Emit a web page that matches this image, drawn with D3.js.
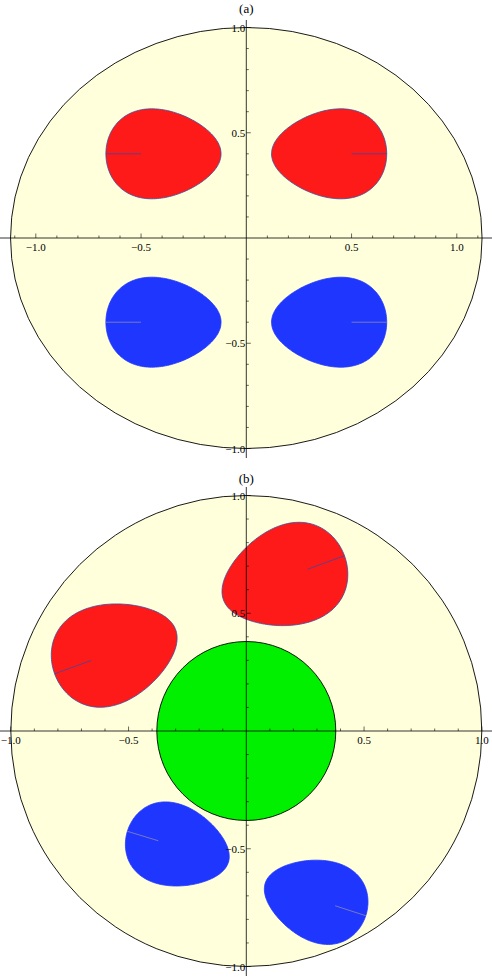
<!DOCTYPE html>
<html><head><meta charset="utf-8">
<script src="https://cdn.jsdelivr.net/npm/d3@7"></script>
<style>body{margin:0;background:#fff}text{font-family:"Liberation Serif",serif}</style>
</head><body>
<svg id="c" width="492" height="978"></svg>
<script>
// egg outline, in units along the blob axis: tip (toward origin), blunt end, half width, skew
var eggTip = -0.38, eggBlunt = 0.167, eggHalfWidth = 0.209, eggSkew = 0.22;

// blobs: seed x, seed y, direction of blunt end (deg), scale, colour
var blobsA = [
  {x: 0.5,  y: 0.4,  dir: 0,   s: 1, c: "red"},
  {x: -0.5, y: 0.4,  dir: 180, s: 1, c: "red"},
  {x: 0.5,  y: -0.4, dir: 0,   s: 1, c: "blue"},
  {x: -0.5, y: -0.4, dir: 180, s: 1, c: "blue"}
];
var blobsB = [
  {x: 0.26,   y: 0.687,  dir: 20,  s: 1,    c: "red"},
  {x: -0.657, y: 0.30,   dir: 200, s: 1,    c: "red"},
  {x: -0.374, y: -0.466, dir: 163, s: 0.82, c: "blue"},
  {x: 0.377,  y: -0.742, dir: -18, s: 0.82, c: "blue"}
];
var majorTicks = [-1, -0.5, 0.5, 1];
var diskRxA = 1.12, greenR = 0.38;

var svg = d3.select("#c");
var fills = {red: "#ff1a1a", blue: "#1f36ff"};
var edge = {red: "#3a4aa0", blue: "#1f36ff"};
var ray = {red: "#3a4aa0", blue: "#8a8ab0"};

function panel(cfg) {
  var x = d3.scaleLinear().domain([0, 1]).range([cfg.ox, cfg.ox + cfg.k]);
  var y = d3.scaleLinear().domain([0, 1]).range([cfg.oy, cfg.oy - cfg.k]);
  var g = svg.append("g");
  g.append("ellipse").attr("cx", x(0)).attr("cy", y(0))
    .attr("rx", x(cfg.rx) - x(0)).attr("ry", y(0) - y(1))
    .attr("fill", "#ffffdc").attr("stroke", "#000").attr("stroke-width", 0.9);
  if (cfg.green) g.append("circle").attr("cx", x(0)).attr("cy", y(0)).attr("r", x(greenR) - x(0))
    .attr("fill", "#00f000").attr("stroke", "#000").attr("stroke-width", 0.9);
  var line = d3.line().x(function(d){return x(d[0]);}).y(function(d){return y(d[1]);}).curve(d3.curveLinearClosed);
  var uc = (eggTip + eggBlunt) / 2, A = (eggBlunt - eggTip) / 2;
  cfg.blobs.forEach(function(b) {
    var t = b.dir * Math.PI / 180, ct = Math.cos(t), st = Math.sin(t);
    var pts = d3.range(0, 360, 2).map(function(a) {
      var th = a * Math.PI / 180;
      var u = (uc + A * Math.cos(th)) * b.s;
      var v = eggHalfWidth * Math.sin(th) * (1 + eggSkew * Math.cos(th)) * b.s;
      return [b.x + u * ct - v * st, b.y + u * st + v * ct];
    });
    g.append("path").attr("d", line(pts)).attr("fill", fills[b.c])
      .attr("stroke", edge[b.c]).attr("stroke-width", 0.8);
    var r0 = eggBlunt * b.s;
    g.append("line").attr("x1", x(b.x)).attr("y1", y(b.y))
      .attr("x2", x(b.x + r0 * ct)).attr("y2", y(b.y + r0 * st))
      .attr("stroke", ray[b.c]).attr("stroke-width", 0.8);
  });
  // axes
  g.append("line").attr("x1", 0).attr("x2", 492).attr("y1", y(0)).attr("y2", y(0)).attr("stroke", "#000").attr("stroke-width", 0.8);
  g.append("line").attr("x1", x(0)).attr("x2", x(0)).attr("y1", cfg.yTop).attr("y2", cfg.yBot).attr("stroke", "#000").attr("stroke-width", 0.8);
  var minor = d3.range(-11, 12).map(function(i){return i / 10;}).filter(function(v){return v !== 0;});
  minor.forEach(function(v) {
    var major = Math.abs(Math.round(v * 10)) % 5 === 0, len = major ? 4.5 : 2.5;
    if (x(v) > 2 && x(v) < 490)
      g.append("line").attr("x1", x(v)).attr("x2", x(v)).attr("y1", y(0)).attr("y2", y(0) - len).attr("stroke", "#000").attr("stroke-width", 0.6);
    if (Math.abs(v) <= 1.0001)
      g.append("line").attr("y1", y(v)).attr("y2", y(v)).attr("x1", x(0)).attr("x2", x(0) + len).attr("stroke", "#000").attr("stroke-width", 0.6);
  });
  var fmt = function(v){return (v < 0 ? "\u2212" : "") + Math.abs(v).toFixed(1);};
  majorTicks.forEach(function(v) {
    g.append("text").attr("x", x(v)).attr("y", y(0) + 13).attr("text-anchor", "middle").attr("font-size", 11).text(fmt(v));
    g.append("text").attr("x", x(0) - 1).attr("y", y(v) + 4).attr("text-anchor", "end").attr("font-size", 11).text(fmt(v));
  });
  g.append("text").attr("x", x(0)).attr("y", cfg.titleY).attr("text-anchor", "middle").attr("font-size", 13).text(cfg.title);
}

panel({ox: 246.3, oy: 238, k: 210.5, rx: diskRxA, blobs: blobsA, green: false, yTop: 20, yBot: 458, title: "(a)", titleY: 13});
panel({ox: 246.3, oy: 731, k: 235.5, rx: 1, blobs: blobsB, green: true, yTop: 487, yBot: 976, title: "(b)", titleY: 483});
</script>
</body></html>
